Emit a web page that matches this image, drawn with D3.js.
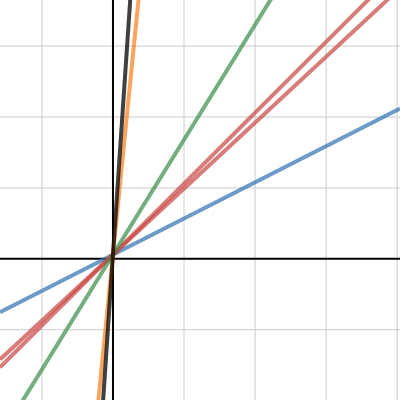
<!DOCTYPE html>
<html><head><meta charset="utf-8">
<script src="https://cdn.jsdelivr.net/npm/d3@7"></script>
<style>body{margin:0;background:#fff}</style>
</head><body><div id="chart"></div>
<script>
// line data: y = slope * x + intercept
const names = ["blue", "red1", "red2", "green", "orange", "black"]
const slopes = [0.51, 0.93, 1.0, 1.62, 10, 14.8]
const intercepts = [0.06, 0.06, 0.06, 0.06, 0.06, 0.06]
const colors = ["#2d70b3", "#c74440", "#c74440", "#388c46", "#fa7e19", "#000000"]
const gridX = [-1, 0, 1, 2, 3, 4]
const gridY = [-1, 0, 1, 2, 3]

const width = 400, height = 400
const x = d3.scaleLinear().domain([-1.59, 4.04]).range([0, width])
const y = d3.scaleLinear().domain([-1.99, 3.65]).range([height, 0])

const svg = d3.select("#chart").append("svg")
	.attr("width", width).attr("height", height)

// grid
svg.append("g").selectAll("line").data(gridX.filter(d => d !== 0)).join("line")
	.attr("x1", d => x(d)).attr("x2", d => x(d))
	.attr("y1", 0).attr("y2", height)
	.attr("stroke", "#ccc").attr("stroke-width", 1)
svg.append("g").selectAll("line").data(gridY.filter(d => d !== 0)).join("line")
	.attr("y1", d => y(d)).attr("y2", d => y(d))
	.attr("x1", 0).attr("x2", width)
	.attr("stroke", "#ccc").attr("stroke-width", 1)

// axes
svg.append("line").attr("x1", x(0)).attr("x2", x(0)).attr("y1", 0).attr("y2", height)
	.attr("stroke", "#000").attr("stroke-width", 2)
svg.append("line").attr("y1", y(0)).attr("y2", y(0)).attr("x1", 0).attr("x2", width)
	.attr("stroke", "#000").attr("stroke-width", 2)

// lines
const xs = [-1.59, 4.04]
svg.append("g").selectAll("line").data(names).join("line")
	.attr("x1", (d, i) => x(xs[0])).attr("y1", (d, i) => y(slopes[i] * xs[0] + intercepts[i]))
	.attr("x2", (d, i) => x(xs[1])).attr("y2", (d, i) => y(slopes[i] * xs[1] + intercepts[i]))
	.attr("stroke", (d, i) => colors[i])
	.attr("stroke-opacity", (d, i) => names[i] === "black" ? 0.75 : 0.7)
	.attr("stroke-width", 4)
</script>
</body></html>
